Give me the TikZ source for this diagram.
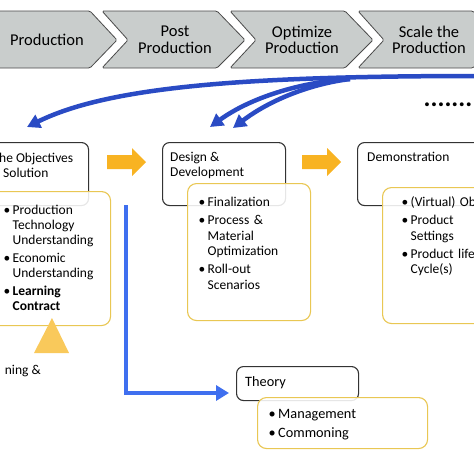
\documentclass[tikz,border=0pt]{standalone}
\usepackage{fontspec}
\setmainfont{Carlito}
\usetikzlibrary{arrows.meta,calc}
\definecolor{chevfill}{HTML}{C9CDCC}
\definecolor{chevline}{HTML}{4A4A4A}
\definecolor{bluecurve}{HTML}{2A4BC4}
\definecolor{bluebar}{HTML}{3F6FEF}
\definecolor{orangearr}{HTML}{F8B322}
\definecolor{trifill}{HTML}{F9C95B}
\definecolor{ybord}{HTML}{E9C753}
\definecolor{boxline}{HTML}{333333}
\newcommand\bitem[2][9.5pt]{\par\noindent\hangindent=#1\hangafter=1\makebox[#1][l]{\strut\hspace{0.5pt}\textbullet}#2}
\begin{document}
\begin{tikzpicture}[x=1pt,y=-1pt,
  chev/.style={fill=chevfill,draw=chevline,line width=0.8pt,rounded corners=1.5pt},
  chevtext/.style={font=\fontsize{16.5}{16.5}\selectfont,align=center,inner sep=0},
  blackbox/.style={draw=boxline,line width=1.1pt,rounded corners=7pt,fill=white,inner sep=0,anchor=north west},
  ybox/.style={draw=ybord,line width=1.1pt,rounded corners=9pt,fill=white,fill opacity=0.88,inner sep=0,anchor=north west},
  title/.style={font=\fontsize{13.5}{15.5}\selectfont,inner sep=0},
  bullets/.style={font=\fontsize{13.5}{15.5}\selectfont,inner sep=0,anchor=north west},
  bluearr/.style={draw=bluecurve,line width=4.5pt,-{Triangle[length=13pt,width=14pt]}},
  orange/.style={fill=orangearr}
]
\useasboundingbox (0,0) rectangle (474,474);
\clip (0,0) rectangle (474,474);

% chevrons
\draw[chev] (-20,11) -- (90,11) -- (117,40) -- (90,68) -- (-20,68) -- cycle;
\draw[chev] (102,11) -- (217,11) -- (245,40) -- (217,68) -- (102,68) -- (128,40) -- cycle;
\draw[chev] (230,11) -- (345,11) -- (373,40) -- (345,68) -- (230,68) -- (256,40) -- cycle;
\draw[chev] (358,11) -- (473,11) -- (501,40) -- (473,68) -- (358,68) -- (384,40) -- cycle;
\node[chevtext] (c1) at (47,40) {Production};
\node[chevtext] (c2) at (175,40) {Post\\Production};
\node[chevtext] (c3) at (302,40) {Optimize\\Production};
\node[chevtext] (c4) at (429,40) {Scale the\\Production};

% blue curved arrows
\coordinate (cstart) at (480,76);
\coordinate (cbr) at (350,79);
\coordinate (cend1) at (27,127);
\coordinate (cend2) at (210,127);
\coordinate (cend3) at (233,128);
\draw[bluearr] (cstart) .. controls (250,76) and (110,86) .. (cend1);
\draw[bluearr] (cbr) .. controls (300,82) and (250,98) .. (cend2);
\draw[bluearr] (cbr) .. controls (310,84) and (270,100) .. (cend3);
\node[font=\fontsize{26}{26}\selectfont\bfseries,anchor=base,inner sep=0] (dots) at (448,106) {.......};

% black boxes
\node[blackbox,minimum width=100pt,minimum height=63pt] (b1) at (-12,142) {};
\node[blackbox,minimum width=123pt,minimum height=63pt] (b2) at (162,142) {};
\node[blackbox,minimum width=140pt,minimum height=63pt] (b3) at (357,142) {};
\node[blackbox,minimum width=122pt,minimum height=34pt] (bt) at (236,366) {};

% yellow boxes
\node[ybox,minimum width=122pt,minimum height=134pt] (y1) at (-12,191) {};
\node[ybox,minimum width=123pt,minimum height=137pt] (y2) at (187,183) {};
\node[ybox,minimum width=110pt,minimum height=136pt] (y3) at (382,187) {};
\node[ybox,minimum width=170pt,minimum height=51pt] (yt) at (257,397) {};

% titles
\node[title,anchor=base west] (t1a) at (-1,162.5) {he Objectives};
\node[title,anchor=base west] (t1b) at (3,177.5) {Solution};
\node[title,anchor=base west] (t2a) at (170,161.5) {Design \&};
\node[title,anchor=base west] (t2b) at (170,176.5) {Development};
\node[title,anchor=base west] (t3) at (367,161.5) {Demonstration};
\node[title,font=\fontsize{14.3}{16}\selectfont,anchor=base west] (tt) at (245,386.5) {Theory};
\node[title,anchor=base east] (tl) at (41,374.5) {ning \&};

% bullet lists
\node[bullets,text width=105pt] (l1) at (3,196.6) {\fontsize{13.5}{15}\selectfont\raggedright\setlength\parskip{3pt}%
\bitem{Production\newline Technology\newline Understanding}%
\bitem{Economic\newline Understanding}%
\bitem{\textbf{Learning\newline Contract}}\par};
\node[bullets,text width=110pt] (l2) at (198,188.6) {\raggedright\setlength\parskip{2.5pt}%
\bitem{Finalization}%
\bitem{Process \&\newline Material\newline Optimization}%
\bitem{Roll-out\newline Scenarios}\par};
\node[bullets,text width=110pt] (l3) at (401,188.6) {\raggedright\setlength\parskip{2.5pt}%
\bitem{(Virtual) Objects}%
\bitem{Product\newline Settings}%
\bitem{Product life\newline Cycle(s)}\par};
\node[bullets,font=\fontsize{14.3}{16}\selectfont,text width=150pt] (lt2) at (268,399.5) {\raggedright\setlength\parskip{3pt}%
\bitem[10pt]{Management}%
\bitem[10pt]{Commoning}\par};

% orange block arrows
\fill[orange] (107,155) -- (132,155) -- (132,148) -- (146,162) -- (132,176) -- (132,169) -- (107,169) -- cycle;
\fill[orange] (302,155) -- (327,155) -- (327,148) -- (341,162) -- (327,176) -- (327,169) -- (302,169) -- cycle;

% triangle
\fill[trifill] (52,318) -- (69,353) -- (34,353) -- cycle;

% blue bar to Theory
\coordinate (vtop) at (126,205);
\coordinate (vend) at (229,393);
\draw[draw=bluebar,line width=4.5pt,-{Triangle[length=13pt,width=15pt]}] (vtop) |- (vend);
\end{tikzpicture}
\end{document}
